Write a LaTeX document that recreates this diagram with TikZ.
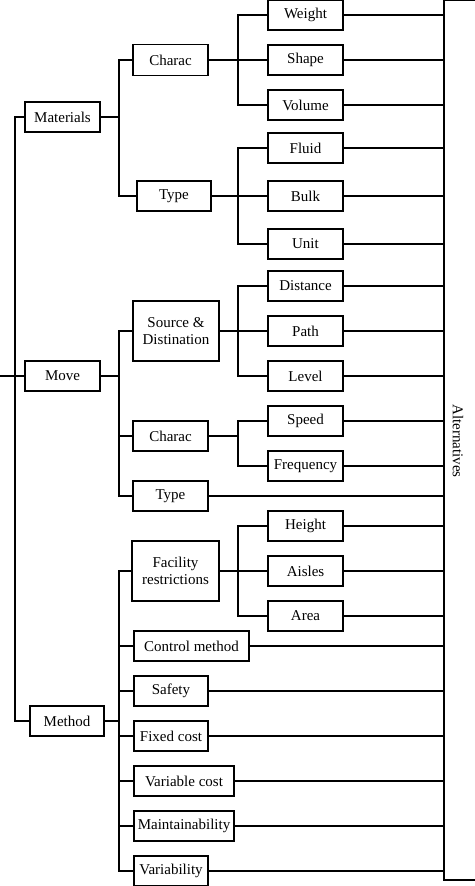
\documentclass[tikz,border=0pt]{standalone}
\usepackage{fontspec}
\setmainfont{Liberation Serif}
\begin{document}
\begin{tikzpicture}[x=1pt,y=-1pt,
  box/.style={draw, line width=1.2pt, inner sep=0pt, minimum height=30pt,
    font=\fontsize{15}{17}\selectfont, align=center},
  conn/.style={line width=1.2pt},
  thick conn/.style={line width=1.8pt},
  lbl/.style={font=\fontsize{15}{17}\selectfont, inner sep=0pt}]
\useasboundingbox (0,0) rectangle (474,886);
% bus coordinates
\coordinate (bA) at (15,0);
\coordinate (bB) at (119,0);
\coordinate (bC) at (238,0);
\coordinate (bR) at (444,0);
\coordinate (lin) at (0,376);
\coordinate (rtop) at (444,0);
\coordinate (rbot) at (492,880);
% level 1
\node[box, minimum width=75pt] (materials) at (62.5,117) {Materials};
\node[box, minimum width=75pt] (move) at (62.5,376) {Move};
\node[box, minimum width=74pt] (method) at (67,721) {Method};
% level 2
\node[box, minimum width=75pt, minimum height=31pt] (charac1) at (170.5,60) {Charac};
\node[box, minimum width=74pt] (type1) at (174,196) {Type};
\node[box, minimum width=86pt, minimum height=60pt] (sd) at (176,331) {Source \&\\Distination};
\node[box, minimum width=75pt] (charac2) at (170.5,436) {Charac};
\node[box, minimum width=75pt] (type2) at (170.5,496) {Type};
\node[box, minimum width=87pt, minimum height=60pt] (facility) at (175.5,571) {Facility\\restrictions};
\node[box, minimum width=115pt] (control) at (191.5,646) {Control method};
\node[box, minimum width=74pt] (safety) at (171,691) {Safety};
\node[box, minimum width=74pt] (fixed) at (171,736) {Fixed cost};
\node[box, minimum width=100pt] (varcost) at (184,781) {Variable cost};
\node[box, minimum width=100pt] (maint) at (184,826) {Maintainability};
\node[box, minimum width=74pt] (variab) at (171,871) {Variability};
% level 3
\node[box, minimum width=75pt] (weight) at (305.5,15) {Weight};
\node[box, minimum width=75pt] (shape) at (305.5,60) {Shape};
\node[box, minimum width=75pt] (volume) at (305.5,105) {Volume};
\node[box, minimum width=75pt] (fluid) at (305.5,148) {Fluid};
\node[box, minimum width=75pt] (bulk) at (305.5,196) {Bulk};
\node[box, minimum width=75pt] (unit) at (305.5,244) {Unit};
\node[box, minimum width=75pt] (distance) at (305.5,286) {Distance};
\node[box, minimum width=75pt] (path) at (305.5,331) {Path};
\node[box, minimum width=75pt] (level) at (305.5,376) {Level};
\node[box, minimum width=75pt] (speed) at (305.5,421) {Speed};
\node[box, minimum width=75pt] (freq) at (305.5,466) {Frequency};
\node[box, minimum width=75pt] (height) at (305.5,526) {Height};
\node[box, minimum width=75pt] (aisles) at (305.5,571) {Aisles};
\node[box, minimum width=75pt] (area) at (305.5,616) {Area};
% alternatives
\draw[conn] (rtop) rectangle (rbot);
\node[lbl, rotate=-90] (alt) at (458,441) {Alternatives};
% left bus
\draw[conn] (materials.west) -| (bA |- method) -- (method.west);
\draw[conn] (lin) -- (move.west);
% level 1 -> level 2
\draw[thick conn] (materials.east) -- (bB |- materials);
\draw[thick conn] (move.east) -- (bB |- move);
\draw[thick conn] (method.east) -- (bB |- method);
\draw[conn] (charac1.west) -| (bB |- materials) |- (type1.west);
\draw[conn] (sd.west) -| (bB |- move) |- (type2.west);
\draw[conn] (charac2.west) -| (bB |- move);
\draw[conn] (facility.west) -| (bB |- method) |- (variab.west);
\foreach \n in {control,safety,fixed,varcost,maint}
  \draw[conn] (\n.west) -- (bB |- \n);
% level 2 -> level 3
\draw[conn] (weight.west) -| (bC |- charac1) |- (volume.west);
\draw[conn] (charac1.east) -- (shape.west);
\draw[conn] (fluid.west) -| (bC |- type1) |- (unit.west);
\draw[conn] (type1.east) -- (bulk.west);
\draw[conn] (distance.west) -| (bC |- sd) |- (level.west);
\draw[conn] (sd.east) -- (path.west);
\draw[conn] (speed.west) -| (bC |- charac2) |- (freq.west);
\draw[conn] (charac2.east) -- (bC |- charac2);
\draw[conn] (height.west) -| (bC |- facility) |- (area.west);
\draw[conn] (facility.east) -- (aisles.west);
% to alternatives
\foreach \n in {weight,shape,volume,fluid,bulk,unit,distance,path,level,speed,freq,height,aisles,area,type2,control,safety,fixed,varcost,maint,variab}
  \draw[conn] (\n.east) -- (bR |- \n);
\end{tikzpicture}
\end{document}
